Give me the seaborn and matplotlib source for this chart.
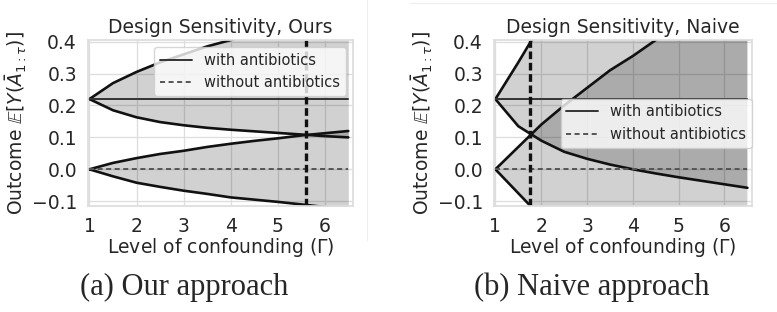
import numpy as np
import pandas as pd
import seaborn as sns
import matplotlib.pyplot as plt
from matplotlib.lines import Line2D

# Level of confounding (Gamma)
gammas = [1.0, 1.5, 2.0, 2.5, 3.0, 3.5, 4.0, 4.5, 5.0, 5.5, 6.0, 6.5]

# Ours
ours_with_center = [0.22] * 12
ours_with_upper = [0.22, 0.27, 0.305, 0.335, 0.36, 0.385, 0.405, 0.425, 0.445, 0.465, 0.48, 0.50]
ours_with_lower = [0.22, 0.185, 0.163, 0.148, 0.138, 0.13, 0.124, 0.119, 0.114, 0.109, 0.104, 0.10]
ours_without_center = [0.0] * 12
ours_without_upper = [0.0, 0.02, 0.035, 0.048, 0.058, 0.07, 0.08, 0.089, 0.097, 0.106, 0.113, 0.12]
ours_without_lower = [0.0, -0.022, -0.042, -0.055, -0.067, -0.077, -0.088, -0.095, -0.102, -0.11, -0.118, -0.125]
ours_gamma_star = 5.6

# Naive
naive_with_center = [0.22] * 12
naive_with_upper = [0.22, 0.335, 0.455, 0.57, 0.68, 0.79, 0.9, 1.0, 1.1, 1.2, 1.3, 1.4]
naive_with_lower = [0.22, 0.135, 0.09, 0.055, 0.033, 0.015, 0.0, -0.013, -0.025, -0.036, -0.047, -0.058]
naive_without_center = [0.0] * 12
naive_without_upper = [0.0, 0.07, 0.14, 0.2, 0.255, 0.31, 0.355, 0.405, 0.45, 0.49, 0.53, 0.57]
naive_without_lower = [0.0, -0.075, -0.15, -0.22, -0.29, -0.36, -0.43, -0.5, -0.57, -0.64, -0.71, -0.78]
naive_gamma_star = 1.75

yticks = [-0.1, 0.0, 0.1, 0.2, 0.3, 0.4]
xticks = [1, 2, 3, 4, 5, 6]

sns.set_theme(style="whitegrid")
plt.rcParams['font.family'] = ['DejaVu Sans']

fig = plt.figure(figsize=(7.77, 3.12), dpi=100)
ax1 = fig.add_axes([0.1133, 0.3397, 0.341, 0.532])
ax2 = fig.add_axes([0.6358, 0.3397, 0.332, 0.532])


def draw_panel(ax, title, wc, wu, wl, oc, ou, ol, gstar, legend_kw):
    df = pd.DataFrame({'gamma': gammas, 'wc': wc, 'wu': wu, 'wl': wl,
                       'oc': oc, 'ou': ou, 'ol': ol})
    ax.fill_between(df['gamma'], df['wl'], df['wu'], color='black', alpha=0.18, lw=0)
    ax.fill_between(df['gamma'], df['ol'], df['ou'], color='black', alpha=0.18, lw=0)
    for col in ['wu', 'wl', 'ou', 'ol']:
        sns.lineplot(data=df, x='gamma', y=col, ax=ax, color='#111111', lw=1.9)
    sns.lineplot(data=df, x='gamma', y='wc', ax=ax, color='#333333', lw=1.4,
                 label='with antibiotics')
    sns.lineplot(data=df, x='gamma', y='oc', ax=ax, color='#555555', lw=1.4,
                 dashes=False, label='without antibiotics', linestyle=(0, (2.6, 1.8)))
    ax.axvline(gstar, color='#111111', lw=2.4, linestyle=(0, (2.3, 1.1)))

    ax.set_xlim(0.97, 6.6)
    ax.set_ylim(-0.115, 0.405)
    ax.set_xticks(xticks)
    ax.set_yticks(yticks)
    ax.tick_params(labelsize=13.5, pad=2)
    ax.set_title(title, fontsize=13.5, pad=5)
    ax.set_xlabel(r'Level of confounding ($\Gamma$)', fontsize=13.5, labelpad=0)
    ax.set_ylabel(r'Outcome $\mathbb{E}[Y(\bar{A}_{1:\tau})]$', fontsize=13.5, labelpad=2)
    for s in ax.spines.values():
        s.set_color('#dddddd')
    ax.grid(color='#dddddd', lw=0.9)
    ax.legend(fontsize=10.5, handlelength=2.2, **legend_kw)


draw_panel(ax1, 'Design Sensitivity, Ours', ours_with_center, ours_with_upper, ours_with_lower,
           ours_without_center, ours_without_upper, ours_without_lower, ours_gamma_star,
           dict(loc='upper right'))
draw_panel(ax2, 'Design Sensitivity, Naive', naive_with_center, naive_with_upper, naive_with_lower,
           naive_without_center, naive_without_upper, naive_without_lower, naive_gamma_star,
           dict(loc='center right', bbox_to_anchor=(1.0, 0.5), borderaxespad=0))

# subfigure borders
fig.add_artist(Line2D([367 / 777, 367 / 777], [1.0, 1 - 240 / 312], color='#eeeeee', lw=0.8))
fig.add_artist(Line2D([410 / 777, 1.0], [1 - 3 / 312, 1 - 3 / 312], color='#eeeeee', lw=0.8))

# captions
fig.text(184 / 777, 1 - 295 / 312, '(a) Our approach', family='Liberation Serif',
         fontsize=22, ha='center', va='baseline')
fig.text(592 / 777, 1 - 295 / 312, '(b) Naive approach', family='Liberation Serif',
         fontsize=22, ha='center', va='baseline')

fig.savefig('out.png', dpi=100)
